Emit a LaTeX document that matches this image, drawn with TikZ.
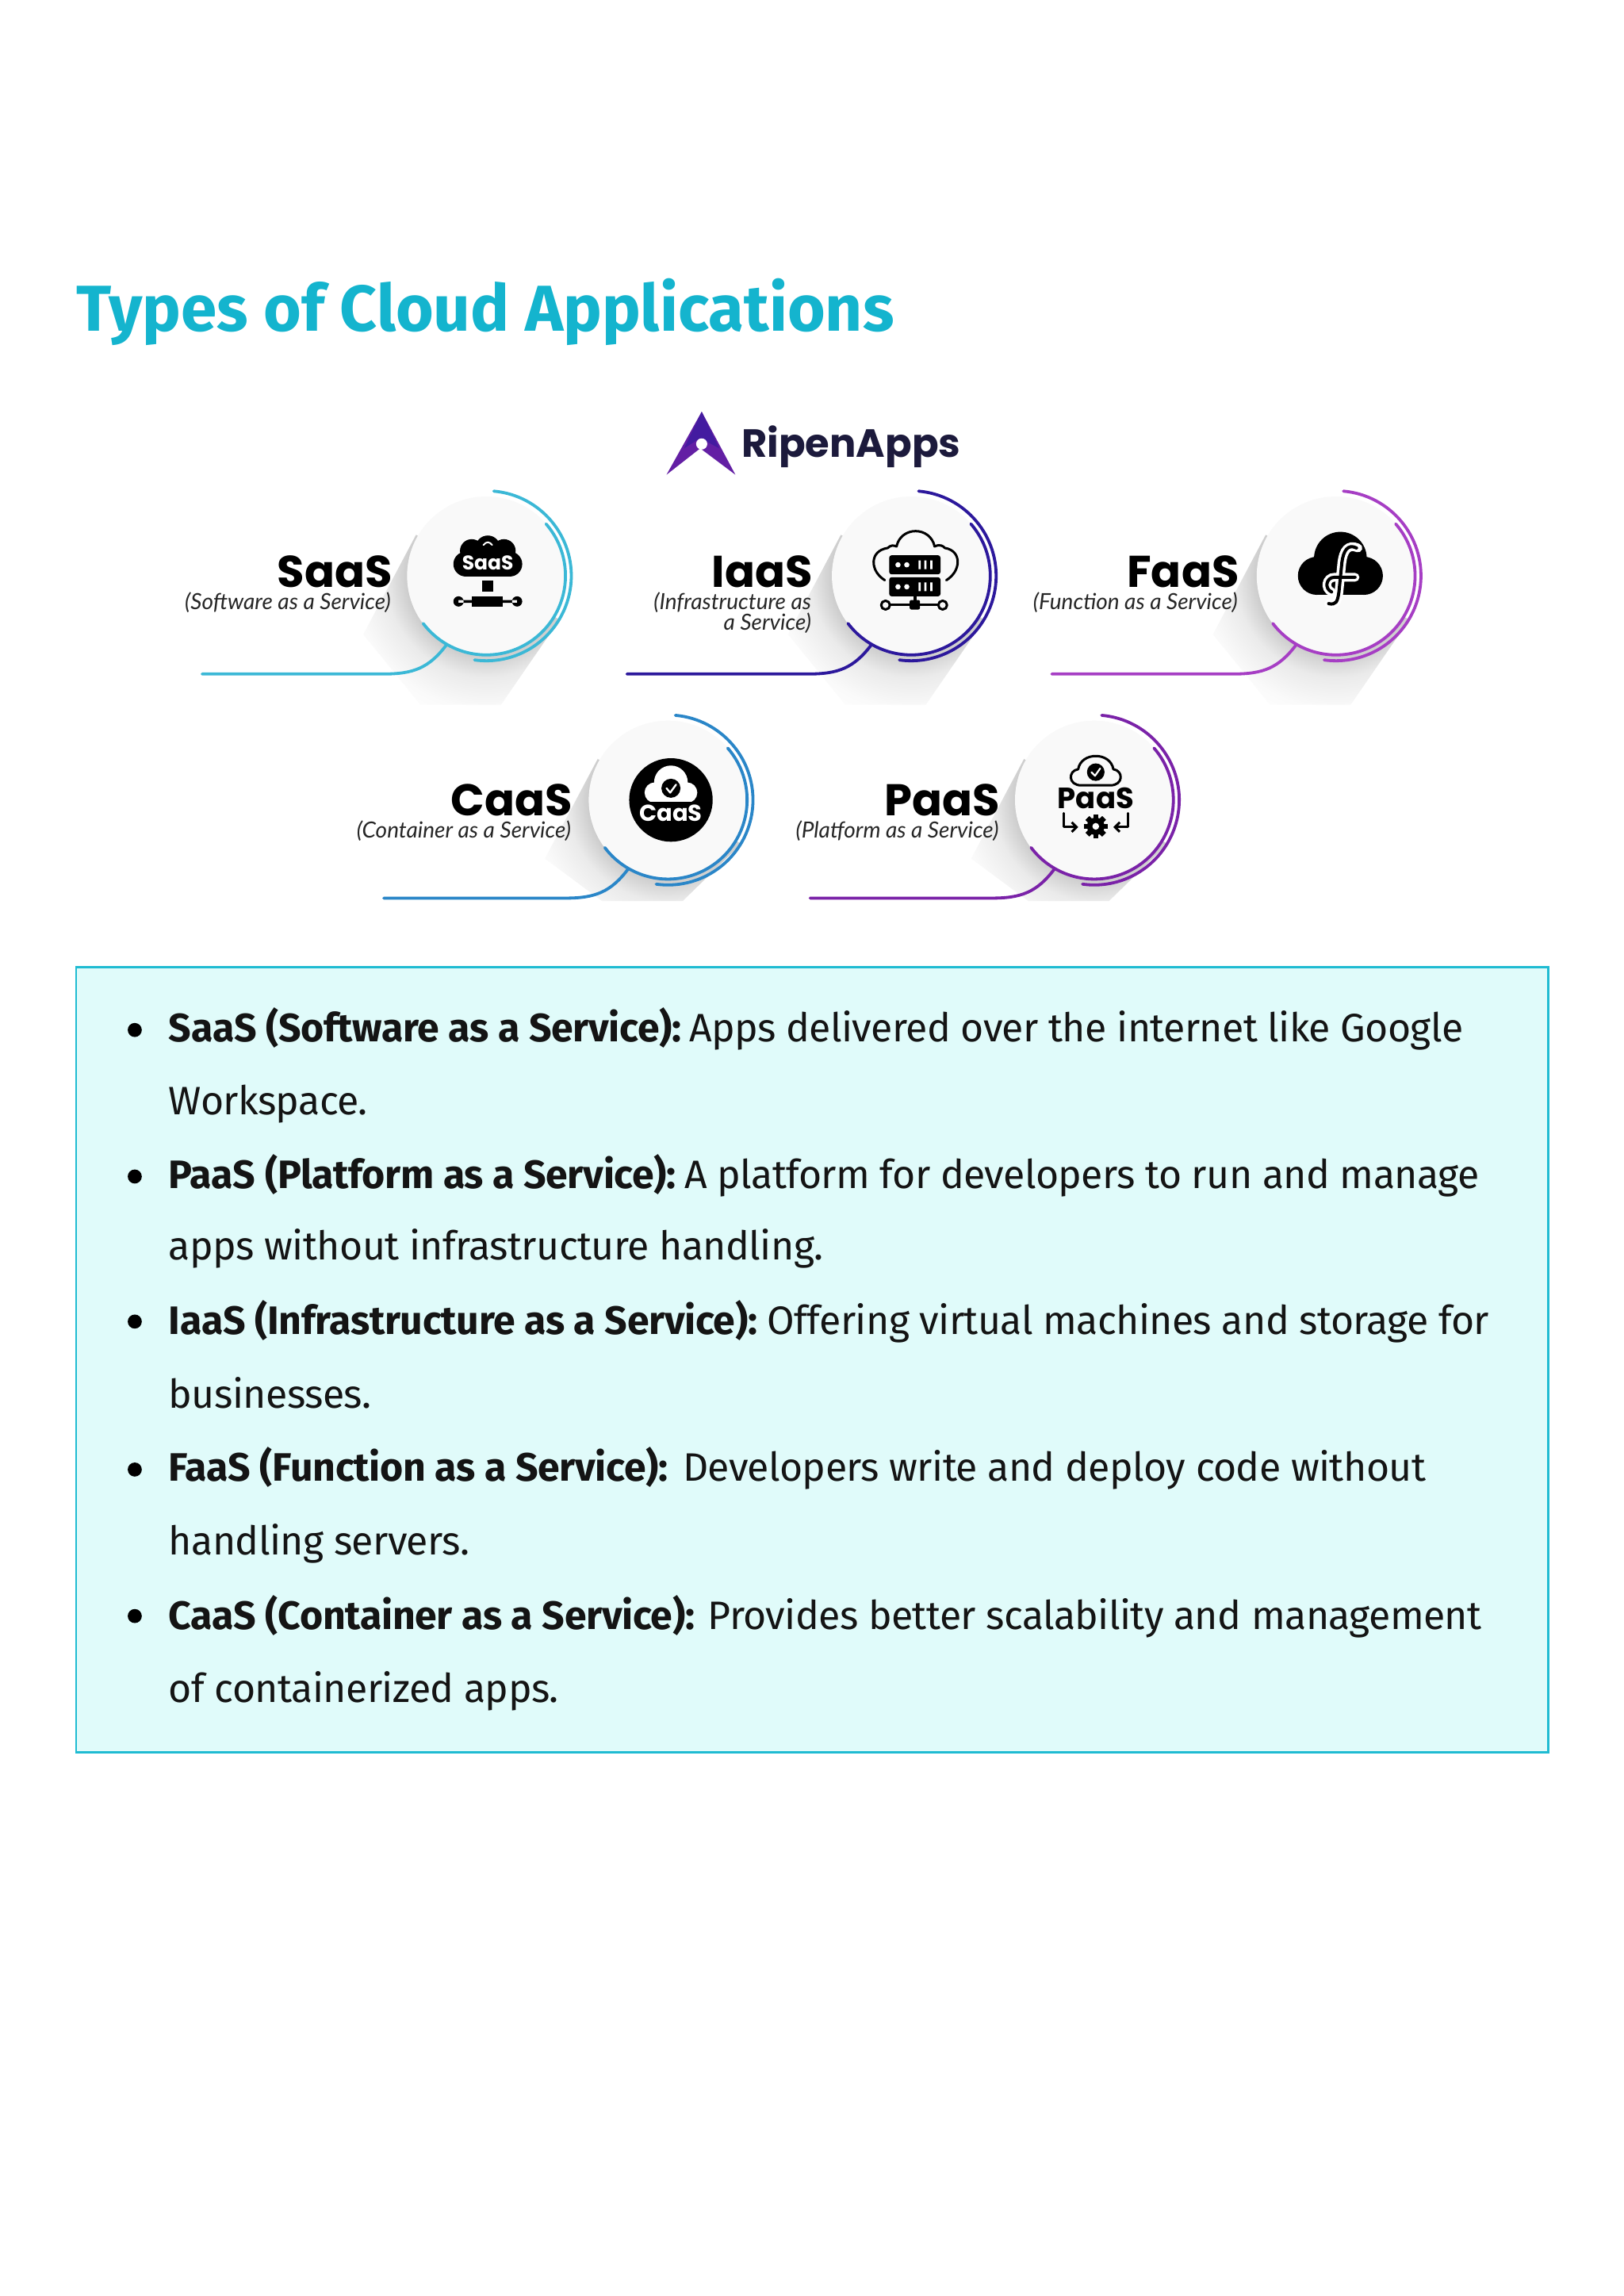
\documentclass[tikz,border=0pt]{standalone}
\usepackage{fontspec}
\setmainfont{Fira Sans}[LetterSpace=-1.2,BoldFeatures={LetterSpace=-0.6}]
\newfontfamily\titlefont{Fira Sans}
\newfontfamily\logofont{Poppins}
\newfontfamily\subfont{Lato}
\usetikzlibrary{arrows.meta}
\definecolor{titleteal}{HTML}{14B4CE}
\definecolor{boxfill}{HTML}{E0FBFA}
\definecolor{boxline}{HTML}{1FBBD2}
\definecolor{ringsaas}{HTML}{3BB8D6}
\definecolor{ringiaas}{HTML}{2C189C}
\definecolor{ringfaas}{HTML}{A63EC4}
\definecolor{ringcaas}{HTML}{2A86C8}
\definecolor{ringpaas}{HTML}{7A22A8}
\definecolor{discfill}{HTML}{F9F9F9}
\definecolor{logoink}{HTML}{1C1A3C}
\pgfdeclareradialshading{svcshadow}{\pgfpoint{0bp}{0bp}}{color(0bp)=(black!22); color(12.5bp)=(black!20); color(16bp)=(black!8); color(21bp)=(black!2); color(25bp)=(white); color(50bp)=(white)}
\newcommand{\svcblock}[5]{%
  \begin{scope}[shift={(#2,#3)}]
    \begin{scope}
      \clip (-48,-28) -- (-84,40) -- (-45,#5) -- (10,#5) -- (50,30) -- cycle;
      \shade[shading=svcshadow] (0,0) circle[radius=108];
    \end{scope}
    \node[circle,fill=discfill,minimum size=100pt,inner sep=0pt] (#1disc) at (0,0) {};
    \draw[ringline=#4] (-41:54) arc[start angle=-41,end angle=143,radius=54];
    \draw[ringline=#4] (-85:58) arc[start angle=-85,end angle=98,radius=58];
    \coordinate (#1start) at (-194,67);
    \draw[ringline=#4] (#1start) -- ++(124,0) .. controls +(20,0) and +(-12,16) .. (#1disc.240);
  \end{scope}}
\newcommand{\rackrow}[1]{%
  \fill[black,rounded corners=1.5pt] (607,#1) rectangle (642,#1+13);
  \fill[white] (613,#1+6.5) circle[radius=1.8] (619,#1+6.5) circle[radius=1.8];
  \fill[white] (627,#1+3.5) rectangle (628.5,#1+9.5) (631,#1+3.5) rectangle (632.5,#1+9.5) (635,#1+3.5) rectangle (636.5,#1+9.5);}
\tikzset{
  ringline/.style={draw=#1,line width=1.9pt,line cap=round},
  svctitle/.style={anchor=base east,inner sep=0pt,font=\logofont\bfseries\fontsize{28}{28}\selectfont},
  svcsub/.style={anchor=base east,inner sep=0pt,font=\subfont\itshape\fontsize{14}{14}\selectfont,text=black!85},
  bodyline/.style={anchor=base west,inner sep=0pt,font=\fontsize{25}{25}\selectfont,text=black!92},
  iconline/.style={draw=black,line width=1.5pt,line cap=round,line join=round},
}
\begin{document}
\begin{tikzpicture}[x=0.92369pt,y=-0.92369pt]
\useasboundingbox (0,0) rectangle (1108.6,1567.1);
\fill[white] (0,0) rectangle (1108.6,1567.1);
\node[anchor=base west,inner sep=0pt,font=\titlefont\bfseries\fontsize{40.9}{41}\selectfont,text=titleteal] (title) at (52,226) {Types of Cloud Applications};

% logo
\fill[ringpaas!70!ringiaas] (479,281) -- (455,324) -- (478,306) -- (502,324) -- cycle;
\fill[ringiaas!70!ringpaas] (479,281) -- (491,306) -- (478,299) -- (467,306) -- cycle;
\fill[white] (479,303) circle[radius=3.8];
\node[anchor=base west,inner sep=0pt,font=\logofont\bfseries\fontsize{24.8}{25}\selectfont,text=logoink] (logo) at (506,312) {RipenApps};

% service blocks
\svcblock{saas}{332}{393}{ringsaas}{88}
\svcblock{iaas}{622}{393}{ringiaas}{88}
\svcblock{faas}{912}{393}{ringfaas}{88}
\svcblock{caas}{456}{546}{ringcaas}{69}
\svcblock{paas}{747}{546}{ringpaas}{69}

\node[svctitle] (saast) at (268,401) {SaaS};
\node[svcsub] (saass) at (267,416) {(Software as a Service)};
\node[svctitle] (iaast) at (555,401) {IaaS};
\node[svcsub] (iaass) at (554,416) {(Infrastructure as};
\node[svcsub] (iaasr) at (554,430) {a Service)};
\node[svctitle] (faast) at (846,401) {FaaS};
\node[svcsub] (faass) at (845,416) {(Function as a Service)};
\node[svctitle] (caast) at (391,557) {CaaS};
\node[svcsub] (caass) at (390,572) {(Container as a Service)};
\node[svctitle] (paast) at (683,557) {PaaS};
\node[svcsub] (paass) at (682,572) {(Platform as a Service)};

% SaaS icon
\fill[black] (322,376) circle[radius=8] (333,374) circle[radius=8.5] (344,376) circle[radius=8] (318,385) circle[radius=8.5] (348,385) circle[radius=8.5];
\fill[black] (318,376) rectangle (348,393.5);
\draw[white,line width=1pt,line cap=round] (330,372) .. controls (332,369.5) and (334,369.5) .. (336,372);
\node[inner sep=0pt,font=\logofont\bfseries\fontsize{12.5}{12.5}\selectfont,text=white] (saasi) at (333,384) {SaaS};
\fill[black] (329,396) rectangle (336.5,404);
\fill[black] (322,407) rectangle (343,414);
\fill[black] (313,410.5) circle[radius=3.5] (353,410.5) circle[radius=3.5] (313,409.5) rectangle (353,411.5);

% IaaS icon
\draw[iconline] (604,396) .. controls (594,390) and (593,376) .. (606,374) .. controls (608,372) and (610,372) .. (612,373) .. controls (615,359) and (635,359) .. (638,373) .. controls (642,371) and (644,373) .. (645,374) .. controls (657,376) and (656,390) .. (646,396);
\rackrow{379}
\rackrow{394}
\fill[black] (623.5,407) rectangle (625.5,411);
\fill[black,rounded corners=1pt] (621,409.5) rectangle (628,416);
\draw[iconline] (607.5,413) -- (621,413) (628,413) -- (640.5,413);
\draw[iconline] (604.5,413) circle[radius=3] (643.5,413) circle[radius=3];

% FaaS icon
\fill[black] (915,381) circle[radius=18] (899,393) circle[radius=13] (931,393) circle[radius=13];
\fill[black] (899,390) rectangle (931,406);
\draw[white,line width=5.5pt,line cap=round] (927,374) .. controls (920,371) and (917,376) .. (916,384) -- (914,404) .. controls (913,411) and (912,413) .. (907,412);
\draw[white,line width=5.5pt,line cap=round] (925,394) -- (911,394) .. controls (905,394) and (904,402) .. (909,404);
\draw[black,line width=2pt,line cap=round] (926,374) .. controls (920,371) and (917,376) .. (916,384) -- (914,404) .. controls (913,411) and (912,413) .. (907,412);
\draw[black,line width=2pt,line cap=round] (925,394) -- (911,394) .. controls (905,394) and (904,402) .. (909,404);

% CaaS icon
\fill[black] (458,546) circle[radius=28.5];
\fill[white] (458,534) circle[radius=11.5] (447,541) circle[radius=7] (469,541) circle[radius=7];
\fill[white] (447,540) rectangle (469,548);
\fill[black] (458,538) circle[radius=6.5];
\draw[white,line width=1.2pt,line cap=round,line join=round] (455,538) -- (457.5,541) -- (461.5,535.5);
\fill[black] (436,547.5) rectangle (480,562);
\node[inner sep=0pt,font=\logofont\bfseries\fontsize{14.5}{14.5}\selectfont,text=white] (caasi) at (458,555) {CaaS};

% PaaS icon
\draw[iconline] (738,536) .. controls (729,536) and (729,526) .. (736,525) .. controls (738,513) and (758,513) .. (760,525) .. controls (767,526) and (767,536) .. (758,536) -- cycle;
\fill[black] (748,527) circle[radius=6];
\draw[white,line width=1.1pt,line cap=round,line join=round] (745,527) -- (747.5,529.5) -- (751,524.5);
\node[inner sep=0pt,font=\logofont\bfseries\fontsize{18.5}{18.5}\selectfont] (paasi) at (748,545) {PaaS};
\foreach \a in {0,45,...,315} {\fill[black,shift={(748,564)},rotate=\a] (-1.8,-8) rectangle (1.8,8);}
\fill[black] (748,564) circle[radius=6];
\fill[white] (748,564) circle[radius=2.3];
\draw[iconline,-{Straight Barb[length=3pt,width=6pt]}] (726,555) -- (726,564.5) -- (736,564.5);
\draw[iconline,-{Straight Barb[length=3pt,width=6pt]}] (770,555) -- (770,564.5) -- (760,564.5);

% text box
\draw[draw=boxline,fill=boxfill,line width=1.3pt] (52,660) rectangle (1057,1196);
\foreach \y in {703,803,902,1003,1103} {\fill[black] (92,\y) circle[radius=4.8];}
\node[bodyline] (l1) at (115,711) {\textbf{SaaS (Software as a Service):}\hspace{-3.5pt} Apps delivered over the internet like Google};
\node[bodyline] (l2) at (115,761) {Workspace.};
\node[bodyline] (l3) at (115,811) {\textbf{PaaS (Platform as a Service):}\hspace{-3pt} A platform for developers to run and manage};
\node[bodyline] (l4) at (115,860) {apps without infrastructure handling.};
\node[bodyline] (l5) at (115,911) {\textbf{IaaS (Infrastructure as a Service):}\hspace{-2pt} Offering virtual machines and storage for};
\node[bodyline] (l6) at (115,961) {businesses.};
\node[bodyline] (l7) at (115,1011) {\textbf{FaaS (Function as a Service):}\hspace{1pt} Developers write and deploy code without};
\node[bodyline] (l8) at (115,1061) {handling servers.};
\node[bodyline] (l9) at (115,1112) {\textbf{CaaS (Container as a Service):} Provides better scalability and management};
\node[bodyline] (l10) at (115,1162) {of containerized apps.};
\end{tikzpicture}
\end{document}
